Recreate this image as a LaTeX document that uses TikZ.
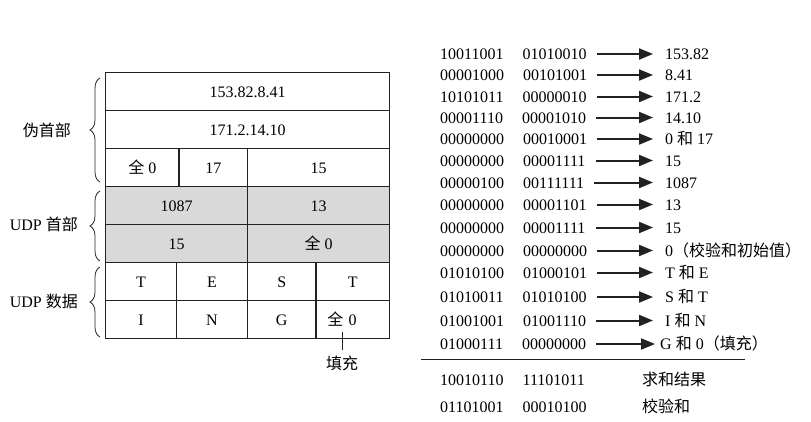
\documentclass[tikz,border=0pt]{standalone}
\usepackage{fontspec}
\setmainfont{Liberation Serif}
\newfontfamily\cjk{Noto Sans CJK SC}
\usetikzlibrary{arrows.meta,decorations.pathreplacing}
\definecolor{hdrgray}{HTML}{D9D9D9}
\definecolor{ink}{HTML}{222222}

\begin{document}
\begin{tikzpicture}[x=1bp,y=-1bp,
    font=\fontsize{16bp}{19bp}\selectfont,
    cell/.style={draw=ink, line width=1.1bp, inner sep=0pt, minimum height=38bp,
        text height=11bp, text depth=0pt},
    hdr/.style={cell, fill=hdrgray},
    grp/.style={anchor=east, inner sep=0pt, text height=11bp, text depth=0pt},
    bits/.style={anchor=west, inner sep=0pt, text height=11bp, text depth=0pt},
    val/.style={anchor=west, inner sep=0pt, text height=11bp, text depth=0pt},
    conn/.style={draw=ink, -{Triangle[length=14bp,width=11bp]}, line width=2bp,
        shorten <=10bp, shorten >=12bp},
    curly/.style={draw=ink, decorate, decoration={brace, amplitude=10bp}, line width=0.8bp}]

        \useasboundingbox (0,0) rectangle (811,421);

        % pseudo header
        \node[cell, minimum width=284bp] (srcip) at (247.5,91.5) {153.82.8.41};
        \node[cell, minimum width=284bp] (dstip) at (247.5,129.5) {171.2.14.10};
        \node[cell, minimum width=73.5bp] (zero) at (142.25,167.5) {{\cjk 全} 0};
        \node[cell, minimum width=68.5bp] (proto) at (213.25,167.5) {17};
        \node[cell, minimum width=142bp] (udplen) at (318.5,167.5) {15};

        % udp header
        \node[hdr, minimum width=142bp] (sport) at (176.5,205.5) {1087};
        \node[hdr, minimum width=142bp] (dport) at (318.5,205.5) {13};
        \node[hdr, minimum width=142bp] (len) at (176.5,243.5) {15};
        \node[hdr, minimum width=142bp] (csum) at (318.5,243.5) {{\cjk 全} 0};

        % udp data
        \node[cell, minimum width=71bp] (dt) at (141,281.5) {T};
        \node[cell, minimum width=71bp] (de) at (212,281.5) {E};
        \node[cell, minimum width=68.5bp] (ds) at (281.75,281.5) {S};
        \node[cell, minimum width=73.5bp] (dt2) at (352.75,281.5) {T};
        \node[cell, minimum width=71bp] (di) at (141,319.5) {I};
        \node[cell, minimum width=71bp] (dn) at (212,319.5) {N};
        \node[cell, minimum width=68.5bp] (dg) at (281.75,319.5) {G};
        \node[cell, minimum width=73.5bp, text width=51bp, align=left] (pad) at (352.75,319.5) {{\cjk 全} 0};

        % braces and group names
        \draw[curly] (100,182) -- (100,78);
        \draw[curly] (100,261) -- (100,191);
        \draw[curly] (100,337) -- (100,267);
        \node[grp] (pseudo) at (71,130.5) {{\cjk 伪首部}};
        \node[grp] (udphdr) at (78,225) {UDP {\cjk 首部}};
        \node[grp] (udpdata) at (78,301.5) {UDP {\cjk 数据}};

        \node[inner sep=0pt] (padlbl) at (342,363) {{\cjk 填充}};
        \coordinate (padtop) at (342,331.5);
        \draw[ink, line width=0.8bp, shorten >=5bp] (padtop) -- (padtop |- padlbl.north);

        % #######################################

        \node[bits] (b1) at (440,54) {10011001\hspace{19bp}01010010};
        \node[val] (v1) at (665,54) {153.82};
        \node[bits] (b2) at (440,75) {00001000\hspace{19bp}00101001};
        \node[val] (v2) at (665,75) {8.41};
        \node[bits] (b3) at (440,96.5) {10101011\hspace{19bp}00000010};
        \node[val] (v3) at (665,96.5) {171.2};
        \node[bits] (b4) at (440,117.5) {00001110\hspace{19bp}00001010};
        \node[val] (v4) at (665,117.5) {14.10};
        \node[bits] (b5) at (440,139) {00000000\hspace{19bp}00010001};
        \node[val] (v5) at (665,139) {0 {\cjk 和} 17};
        \node[bits] (b6) at (440,160.5) {00000000\hspace{19bp}00001111};
        \node[val] (v6) at (665,160.5) {15};
        \node[bits] (b7) at (440,182.5) {00000100\hspace{19bp}00111111};
        \node[val] (v7) at (665,182.5) {1087};
        \node[bits] (b8) at (440,204.5) {00000000\hspace{19bp}00001101};
        \node[val] (v8) at (665,204.5) {13};
        \node[bits] (b9) at (440,227.5) {00000000\hspace{19bp}00001111};
        \node[val] (v9) at (665,227.5) {15};
        \node[bits] (b10) at (440,250.5) {00000000\hspace{19bp}00000000};
        \node[val] (v10) at (665,250.5) {0{\cjk （校验和初始值）}};
        \node[bits] (b11) at (440,272.5) {01010100\hspace{19bp}01000101};
        \node[val] (v11) at (665,272.5) {T {\cjk 和} E};
        \node[bits] (b12) at (440,297) {01010011\hspace{19bp}01010100};
        \node[val] (v12) at (665,297) {S {\cjk 和} T};
        \node[bits] (b13) at (440,320.5) {01001001\hspace{19bp}01001110};
        \node[val] (v13) at (665,320.5) {I {\cjk 和} N};
        \node[bits] (b14) at (440,344) {01000111\hspace{19bp}00000000};
        \node[val] (v14) at (660,344) {G {\cjk 和} 0{\cjk （填充）}};

        \draw[conn] (b1.east) -- (v1.west);
        \draw[conn] (b2.east) -- (v2.west);
        \draw[conn] (b3.east) -- (v3.west);
        \draw[conn] (b4.east) -- (v4.west);
        \draw[conn] (b5.east) -- (v5.west);
        \draw[conn] (b6.east) -- (v6.west);
        \draw[conn] (b7.east) -- (v7.west);
        \draw[conn] (b8.east) -- (v8.west);
        \draw[conn] (b9.east) -- (v9.west);
        \draw[conn] (b10.east) -- (v10.west);
        \draw[conn] (b11.east) -- (v11.west);
        \draw[conn] (b12.east) -- (v12.west);
        \draw[conn] (b13.east) -- (v13.west);
        \draw[conn, shorten >=5bp] (b14.east) -- (v14.west);

        \draw[ink, line width=1.2bp] (421,359.5) -- (745,359.5);

        \node[bits] (sum) at (440,380) {10010110\hspace{19bp}11101011};
        \node[val] (sumlbl) at (642,380) {{\cjk 求和结果}};
        \node[bits] (chk) at (440,407) {01101001\hspace{19bp}00010100};
        \node[val] (chklbl) at (642,407) {{\cjk 校验和}};

    \end{tikzpicture}
\end{document}
